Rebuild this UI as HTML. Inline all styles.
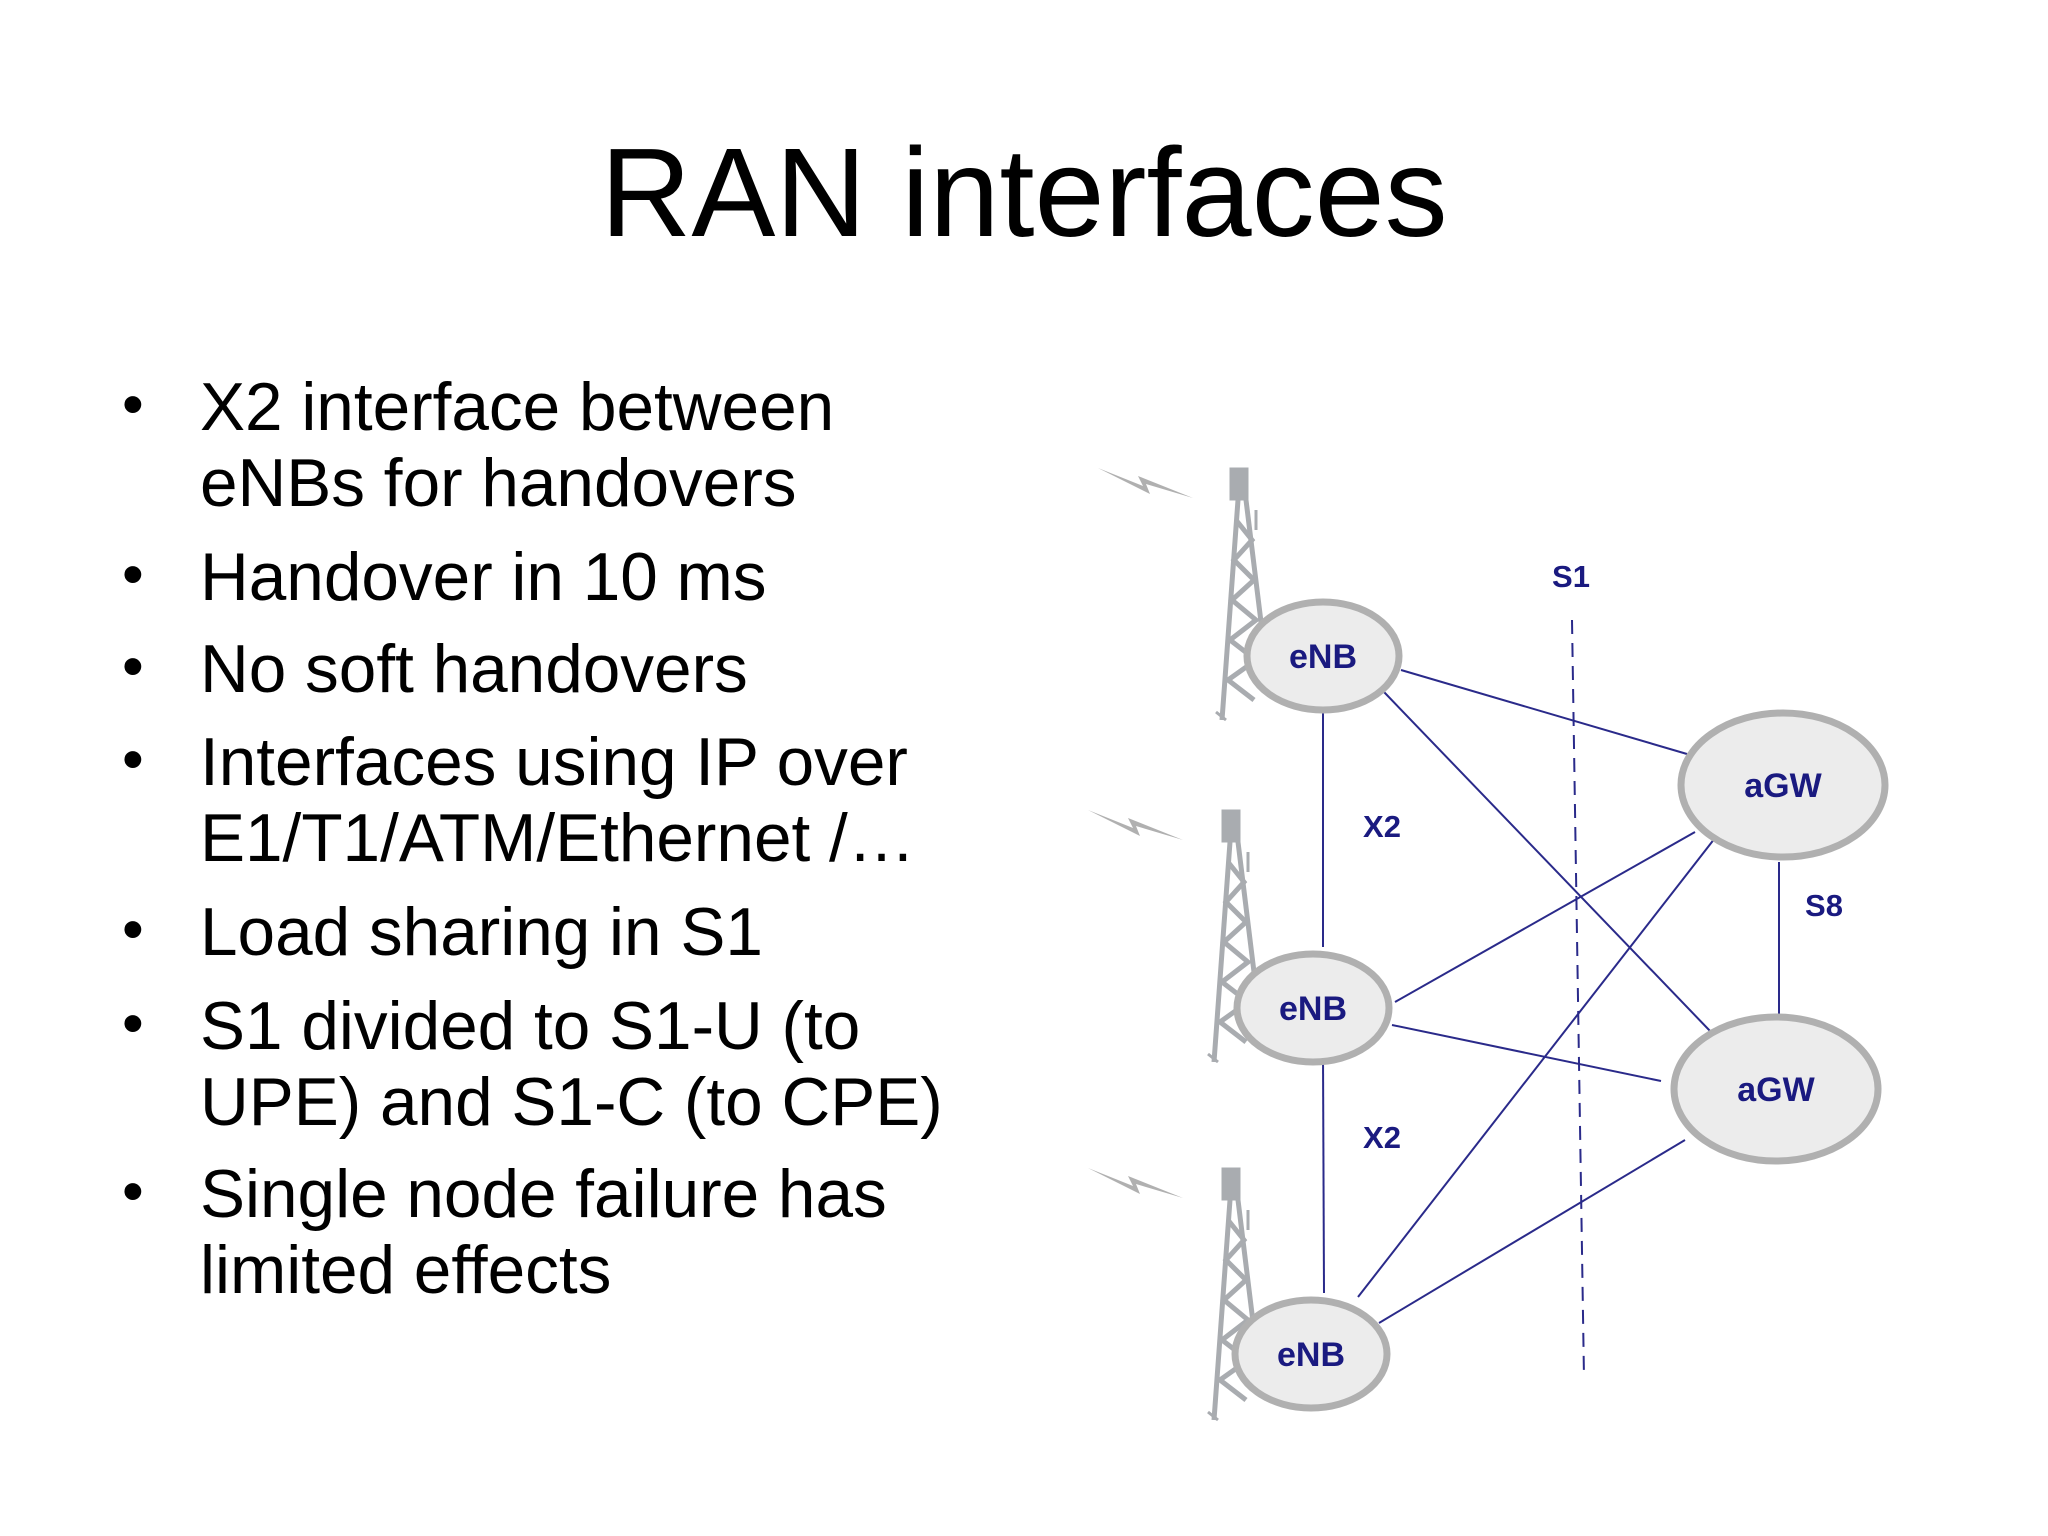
<!DOCTYPE html>
<html><head><meta charset="utf-8"><style>
html,body{margin:0;padding:0;background:#fff;}
body{width:2048px;height:1536px;position:relative;overflow:hidden;font-family:"Liberation Sans",Arial,sans-serif;}
.title{position:absolute;left:0;width:2048px;top:130px;text-align:center;font-size:126px;color:#000;line-height:1;}
.b{position:absolute;left:200px;font-size:67.5px;color:#000;line-height:1;white-space:nowrap;}
.d{position:absolute;left:122px;font-size:62px;line-height:1;}
</style></head><body>
<div class="title">RAN interfaces</div>
<div class="d" style="top:374px">•</div>
<div class="b" style="top:374px">X2 interface between</div>
<div class="b" style="top:450px">eNBs for handovers</div>
<div class="d" style="top:544px">•</div>
<div class="b" style="top:544px">Handover in 10 ms</div>
<div class="d" style="top:636px">•</div>
<div class="b" style="top:636px">No soft handovers</div>
<div class="d" style="top:729px">•</div>
<div class="b" style="top:729px">Interfaces using IP over</div>
<div class="b" style="top:805px">E1/T1/ATM/Ethernet /…</div>
<div class="d" style="top:899px">•</div>
<div class="b" style="top:899px">Load sharing in S1</div>
<div class="d" style="top:993px">•</div>
<div class="b" style="top:993px">S1 divided to S1-U (to</div>
<div class="b" style="top:1069px">UPE) and S1-C (to CPE)</div>
<div class="d" style="top:1161px">•</div>
<div class="b" style="top:1161px">Single node failure has</div>
<div class="b" style="top:1237px">limited effects</div>

<svg width="2048" height="1536" style="position:absolute;left:0;top:0" xmlns="http://www.w3.org/2000/svg">
<defs>
<g id="tower" fill="none" stroke="#a9acb0" stroke-width="5">
<path d="M1240 0 l0 30 M1232 0 l14 0 l0 28 l-14 0z" fill="#a9acb0"/>
<path d="M1238 30 L1222 250 M1246 30 L1262 160"/>
<path d="M1236 50 l16 20 l-18 20 l20 20 l-22 20 l24 20 l-26 20 l26 20 l-28 20 l26 20"/>
<path d="M1226 250 l-10 -8 M1256 40 l0 20" stroke-width="3"/>
</g>
<g id="bolt" fill="#b0b0b0"><path d="M0 0 L45 18 L40 8 L95 30 L48 16 L52 26 Z"/></g>
</defs>
<use href="#tower" x="0" y="470"/>
<use href="#tower" x="-8" y="812"/>
<use href="#tower" x="-8" y="1170"/>
<use href="#bolt" x="1098" y="468"/>
<use href="#bolt" x="1088" y="810"/>
<use href="#bolt" x="1088" y="1168"/>
<g stroke="#2a2a8a" stroke-width="2" fill="none">
<line x1="1401" y1="670" x2="1687" y2="754"/>
<line x1="1384" y1="692" x2="1711" y2="1032"/>
<line x1="1323" y1="709" x2="1323" y2="947"/>
<line x1="1395" y1="1002" x2="1695" y2="832"/>
<line x1="1392" y1="1025" x2="1661" y2="1081"/>
<line x1="1323" y1="1055" x2="1324" y2="1293"/>
<line x1="1358" y1="1297" x2="1715" y2="838"/>
<line x1="1379" y1="1323" x2="1685" y2="1140"/>
<line x1="1779" y1="862" x2="1779" y2="1019"/>
<line x1="1572" y1="620" x2="1584" y2="1378" stroke-dasharray="14,9"/>
</g>
<g fill="#ececec" stroke="#b0b0b0" stroke-width="7">
<ellipse cx="1323" cy="656" rx="76" ry="54"/>
<ellipse cx="1313" cy="1008" rx="76" ry="54"/>
<ellipse cx="1311" cy="1354" rx="76" ry="54"/>
<ellipse cx="1783" cy="785" rx="102" ry="72"/>
<ellipse cx="1776" cy="1089" rx="102" ry="72"/>
</g>
<g fill="#1a1a80" font-family="Liberation Sans, Arial, sans-serif" font-weight="bold" text-anchor="middle">
<text x="1323" y="668" font-size="34">eNB</text>
<text x="1313" y="1020" font-size="34">eNB</text>
<text x="1311" y="1366" font-size="34">eNB</text>
<text x="1783" y="797" font-size="34">aGW</text>
<text x="1776" y="1101" font-size="34">aGW</text>
<text x="1571" y="587" font-size="31">S1</text>
<text x="1382" y="837" font-size="31">X2</text>
<text x="1382" y="1148" font-size="31">X2</text>
<text x="1824" y="916" font-size="31">S8</text>
</g>
</svg>
</body></html>
